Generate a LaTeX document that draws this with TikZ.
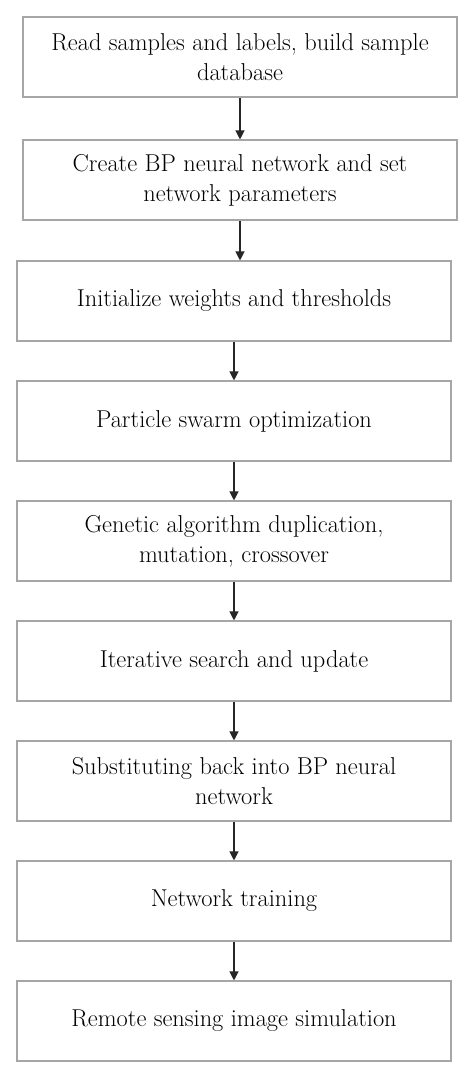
\documentclass[tikz,border=0pt]{standalone}
\usepackage{fontspec}
\usetikzlibrary{arrows.meta}
\begin{document}
\begin{tikzpicture}[
            x = 1pt, y = 1pt,
            stepbox/.style = {draw = black!35, line width = 1.1pt, rectangle, minimum width = 434pt, minimum height = 80pt, align = center, inner sep = 0pt, font = \fontsize{24.4}{30}\selectfont},
            arr/.style = {draw = black!85, line width = 1.2pt, -{Triangle[length = 9pt, width = 9pt]}},
        ]
        \useasboundingbox (0,0) rectangle (474,-1078);

        \node (read) [stepbox] at (240,-57){Read samples and labels, build sample\\database};
        \node (create) [stepbox] at (240,-180){Create BP neural network and set\\network parameters};
        \node (init) [stepbox] at (234,-301){Initialize weights and thresholds};
        \node (pso) [stepbox] at (234,-421){Particle swarm optimization};
        \node (ga) [stepbox] at (234,-541){Genetic algorithm duplication,\\mutation, crossover};
        \node (iter) [stepbox] at (234,-661){Iterative search and update};
        \node (subst) [stepbox] at (234,-781){Substituting back into BP neural\\network};
        \node (train) [stepbox] at (234,-901){Network training};
        \node (sim) [stepbox] at (234,-1021){Remote sensing image simulation};

        \path[arr] (read) -- (create);
        \path[arr] (create.south) -- (create.south |- init.north);
        \path[arr] (init) -- (pso);
        \path[arr] (pso) -- (ga);
        \path[arr] (ga) -- (iter);
        \path[arr] (iter) -- (subst);
        \path[arr] (subst) -- (train);
        \path[arr] (train) -- (sim);
    \end{tikzpicture}
\end{document}
